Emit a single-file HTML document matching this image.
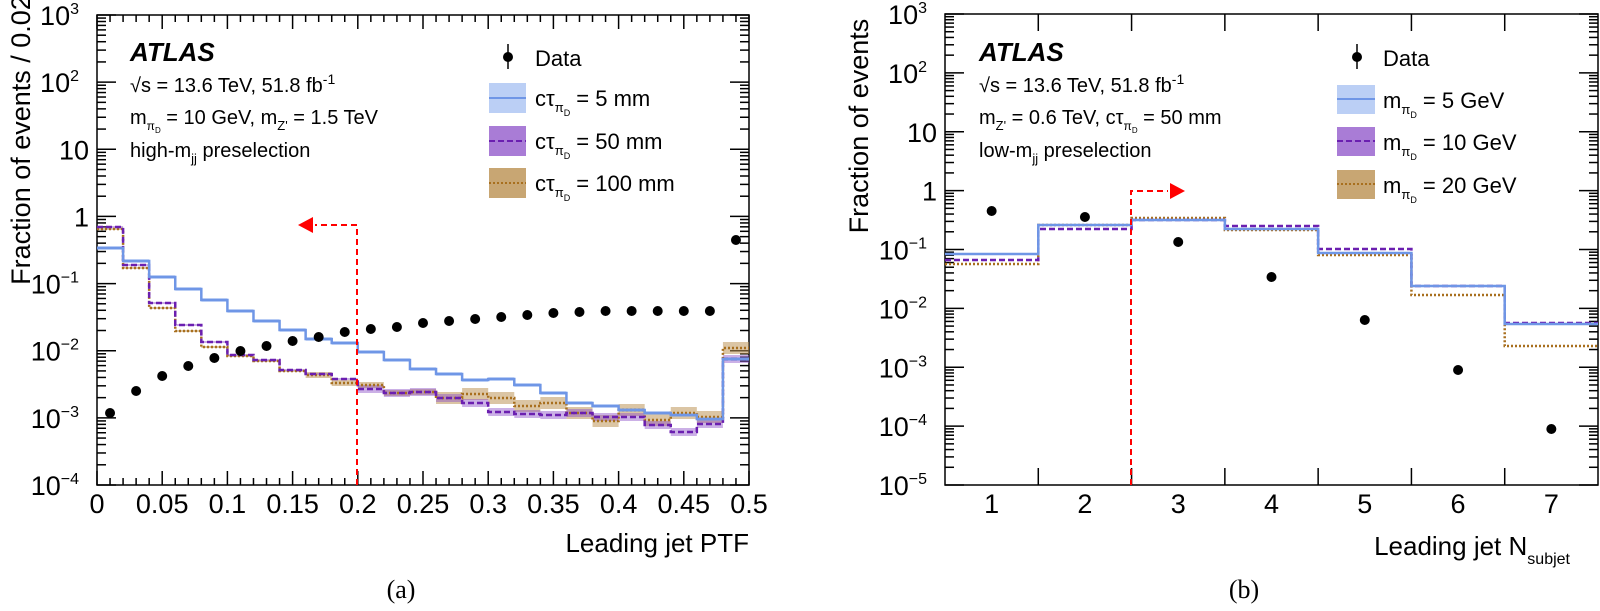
<!DOCTYPE html>
<html><head><meta charset="utf-8"><style>
html,body{margin:0;padding:0;background:#fff;}
svg{display:block;font-family:"Liberation Sans",Arial,sans-serif;}
</style></head><body>
<svg id="s" width="1600" height="611" viewBox="0 0 1600 611" xmlns="http://www.w3.org/2000/svg"></svg>
<script>
const S=document.getElementById('s');let h='';
function L(x1,y1,x2,y2,st){h+=`<line x1="${x1}" y1="${y1}" x2="${x2}" y2="${y2}" ${st||'stroke="#000" stroke-width="1.5"'}/>`;}
function T(x,y,t,st){h+=`<text x="${x}" y="${y}" ${st||''}>${t}</text>`;}
function axes(x0,x1,y0,y1,decades,ylabs,yl0,xt){
  h+=`<rect x="${x0}" y="${y0}" width="${x1-x0}" height="${y1-y0}" fill="none" stroke="#000" stroke-width="1.5"/>`;
  const d=(y1-y0)/decades;
  for(let k=0;k<=decades;k++){
    const y=y1-k*d;
    L(x0,y,x0+19,y);L(x1,y,x1-19,y);
    if(k<decades)for(let m=2;m<10;m++){const yy=y-Math.log10(m)*d;L(x0,yy,x0+9,yy);L(x1,yy,x1-9,yy);}
    const e=yl0+k;let lab;
    if(e==0)lab='1';else if(e==1)lab='10';else lab=`10<tspan dy="-11" font-size="16">${e<0?'−'+(-e):e}</tspan>`;
    h+=`<text x="${e==0||e==1?x0-8:x0-18}" y="${y+10}" font-size="27" text-anchor="end">${lab}</text>`;
  }
  xt.forEach(t=>{L(t[0],y1,t[0],y1-t[1]);L(t[0],y0,t[0],y0+t[1]);});
}
const lx0=97,lx1=749,ly0=15,ly1=485;
let xt=[];for(let i=0;i<=50;i++){const x=lx0+i*(lx1-lx0)/50;xt.push([x,i%5==0?14:7]);}
axes(lx0,lx1,ly0,ly1,7,null,-4,xt);
['0','0.05','0.1','0.15','0.2','0.25','0.3','0.35','0.4','0.45','0.5'].forEach((t,i)=>T(lx0+i*(lx1-lx0)/10,513,t,'font-size="27" text-anchor="middle"'));
const bw=(lx1-lx0)/25;
function hist(ys,x0,w,col,dash,bandCol,bh,sw){
  let p='';ys.forEach((y,i)=>{const a=x0+i*w,b=a+w;p+=(i==0?`M${a},${y}`:`L${a},${y}`)+`L${b},${y}`;
    if(bandCol)h+=`<rect x="${a}" y="${y-bh[i]}" width="${w}" height="${2*bh[i]}" fill="${bandCol}"/>`;});
  return `<path d="${p}" fill="none" stroke="${col}" stroke-width="${sw||2.5}" ${dash?`stroke-dasharray="${dash}"`:''}/>`;
}
const blueL=[248,261,277,289,300,311,321,330,339,343,352,360,369,374,380,379,385,393,403,406,410,413,415,419,359];
const purL=[227,265,303,325,342,355,360,370,374,379,389,393,392,398,403,412,414,415,413,417,417,425,432,424,359];
const tanL=[229,268,308,331,347,356,361,371,375,383,385,393,392,398,394,398,406,403,413,421,410,420,413,417,348];
let lines='';
lines+=hist(tanL,lx0,bw,'#a86f1e','2,2','rgba(190,150,90,0.55)',tanL.map((y,i)=>i<8?1:(i>12?6:3)));
lines+=hist(purL,lx0,bw,'#6b1fb0','6,3','rgba(140,80,200,0.45)',purL.map((y,i)=>i<10?1:4),);
lines+=hist(blueL,lx0,bw,'#6f96e6',null,'rgba(120,160,235,0.35)',blueL.map(()=>2),2.5);
h+=lines;
const dL=[413,391,376,366,358,351,346,341,337,332,329,327,323,321,319,317,315,313,312,311,311,311,311,311,240];
dL.forEach((y,i)=>h+=`<circle cx="${lx0+(i+0.5)*bw}" cy="${y}" r="5" fill="#000"/>`);
h+=`<path d="M357,485 L357,225 L315,225" fill="none" stroke="#f00" stroke-width="2" stroke-dasharray="6,4"/>`;
h+=`<polygon points="298,225 313,217 313,233" fill="#f00"/>`;
T(130,61,'ATLAS','font-size="26" font-weight="bold" font-style="italic"');
T(130,92,'√s = 13.6 TeV, 51.8 fb<tspan dy="-8" font-size="14">-1</tspan>','font-size="20"');
T(130,124,'m<tspan dy="6" font-size="12">π</tspan><tspan dy="3" font-size="8">D</tspan><tspan dy="-9"> = 10 GeV, m</tspan><tspan dy="6" font-size="13">Z\'</tspan><tspan dy="-6"> = 1.5 TeV</tspan>','font-size="20"');
T(130,157,'high-m<tspan dy="6" font-size="13">jj</tspan><tspan dy="-6"> preselection</tspan>','font-size="20"');
h+=`<circle cx="508" cy="57" r="5" fill="#000"/>`;L(508,44,508,69);
T(535,66,'Data','font-size="22"');
const legL=[[83,'rgba(120,160,235,0.5)','#6f96e6',null,'5 mm'],[126,'rgba(140,80,200,0.75)','#6b1fb0','6,3','50 mm'],[168,'rgba(190,150,90,0.85)','#a86f1e','2,2','100 mm']];
legL.forEach(l=>{h+=`<rect x="489" y="${l[0]}" width="37" height="30" fill="${l[1]}"/>`;L(489,l[0]+15,526,l[0]+15,`stroke="${l[2]}" stroke-width="2" ${l[3]?'stroke-dasharray="'+l[3]+'"':''}`);
 T(535,l[0]+23,`cτ<tspan dy="6" font-size="13">π</tspan><tspan dy="4" font-size="9">D</tspan><tspan dy="-10"> = ${l[4]}</tspan>`,'font-size="22"');});
T(30,140,'Fraction of events / 0.02','font-size="27" text-anchor="middle" transform="rotate(-90 30 140)"');
T(749,552,'Leading jet PTF','font-size="26" text-anchor="end"');
T(401,598,'(a)','font-size="26" font-family="Liberation Serif,serif" text-anchor="middle"');

const rx0=945,rx1=1598,ry0=14,ry1=485;const rw=(rx1-rx0)/7;
let xt2=[];for(let k=1;k<7;k++)xt2.push([rx0+k*rw,17]);
axes(rx0,rx1,ry0,ry1,8,null,-5,xt2);
for(let k=1;k<=7;k++)T(rx0+(k-0.5)*rw,513,k,'font-size="27" text-anchor="middle"');
const blueR=[254,225,220,229,253,286,324],purR=[260,229,220,226,249,286,323],tanR=[264,225,218,230,255,295,346];
h+=hist(tanR,rx0,rw,'#a86f1e','2,2','rgba(190,150,90,0.5)',[1,1,1,1,1,1,4]);
h+=hist(purR,rx0,rw,'#6b1fb0','6,3','rgba(140,80,200,0.4)',[1,1,1,1,1,1,2]);
h+=hist(blueR,rx0,rw,'#6f96e6',null,'rgba(120,160,235,0.35)',[3,2,2,2,2,2,2]);
const dR=[211,217,242,277,320,370,429];
dR.forEach((y,i)=>h+=`<circle cx="${rx0+(i+0.5)*rw}" cy="${y}" r="5" fill="#000"/>`);
h+=`<path d="M1131,485 L1131,191 L1168,191" fill="none" stroke="#f00" stroke-width="2" stroke-dasharray="6,4"/>`;
h+=`<polygon points="1185,191 1170,183 1170,199" fill="#f00"/>`;
T(979,61,'ATLAS','font-size="26" font-weight="bold" font-style="italic"');
T(979,92,'√s = 13.6 TeV, 51.8 fb<tspan dy="-8" font-size="14">-1</tspan>','font-size="20"');
T(979,124,'m<tspan dy="6" font-size="13">Z\'</tspan><tspan dy="-6"> = 0.6 TeV, cτ</tspan><tspan dy="6" font-size="12">π</tspan><tspan dy="3" font-size="8">D</tspan><tspan dy="-9"> = 50 mm</tspan>','font-size="20"');
T(979,157,'low-m<tspan dy="6" font-size="13">jj</tspan><tspan dy="-6"> preselection</tspan>','font-size="20"');
h+=`<circle cx="1357" cy="57" r="5" fill="#000"/>`;L(1357,44,1357,69);
T(1383,66,'Data','font-size="22"');
const legR=[[85,'rgba(120,160,235,0.5)','#6f96e6',null,'5 GeV'],[127,'rgba(140,80,200,0.75)','#6b1fb0','6,3','10 GeV'],[170,'rgba(190,150,90,0.85)','#a86f1e','2,2','20 GeV']];
legR.forEach(l=>{h+=`<rect x="1337" y="${l[0]}" width="38" height="29" fill="${l[1]}"/>`;L(1337,l[0]+14,1375,l[0]+14,`stroke="${l[2]}" stroke-width="2" ${l[3]?'stroke-dasharray="'+l[3]+'"':''}`);
 T(1383,l[0]+23,`m<tspan dy="6" font-size="13">π</tspan><tspan dy="4" font-size="9">D</tspan><tspan dy="-10"> = ${l[4]}</tspan>`,'font-size="22"');});
T(868,126,'Fraction of events','font-size="27" text-anchor="middle" transform="rotate(-90 868 126)"');
T(1570,555,'Leading jet N<tspan dy="9" font-size="16">subjet</tspan>','font-size="26" text-anchor="end"');
T(1244,598,'(b)','font-size="26" font-family="Liberation Serif,serif" text-anchor="middle"');
S.innerHTML=h;
</script>
</body></html>
